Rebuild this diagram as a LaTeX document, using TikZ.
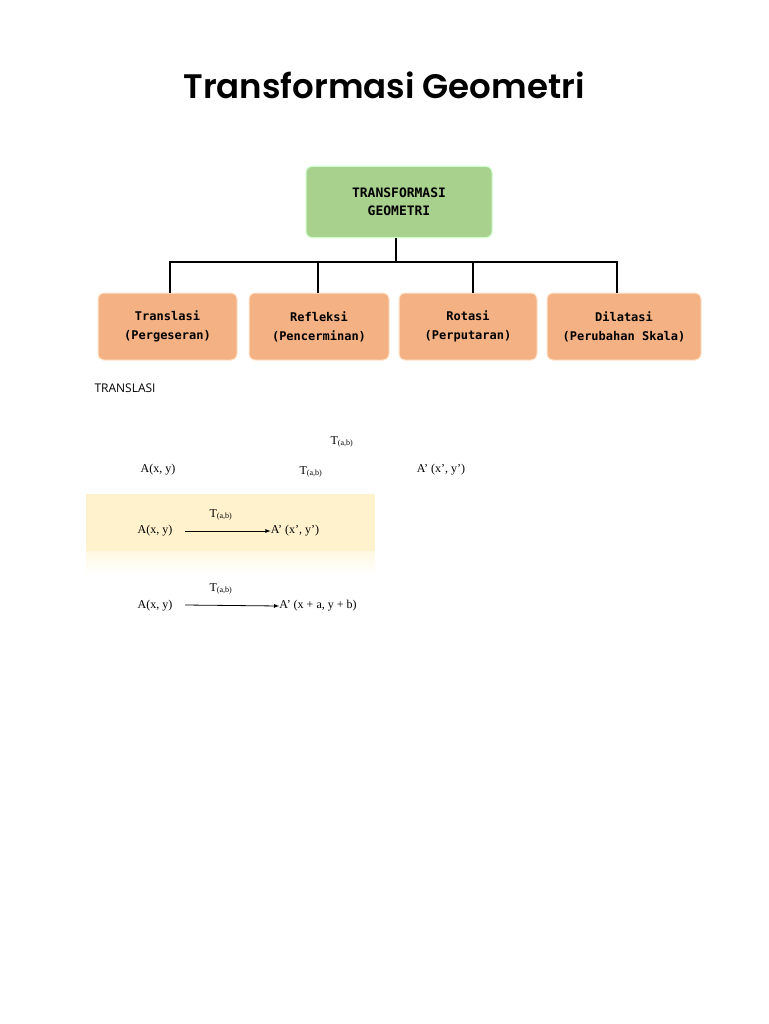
\documentclass[tikz,border=0pt]{standalone}
\usepackage{fontspec}
\setmainfont{Liberation Serif}
\newfontfamily\titlefont{Poppins SemiBold}
\newfontfamily\boxfont{DejaVu Sans Mono}
\newfontfamily\plainfont{Open Sans}
\definecolor{gfill}{RGB}{169,209,142}
\definecolor{ofill}{RGB}{244,177,131}
\definecolor{yfill}{RGB}{255,242,204}
\definecolor{yfade}{RGB}{255,248,225}
\begin{document}
\begin{tikzpicture}[x=1pt,y=-1pt,
  gbox/.style={draw=green!20!white,line width=1pt,fill=gfill,rounded corners=6pt,minimum width=186pt,minimum height=71pt,align=center,font=\boxfont\bfseries\fontsize{13}{18}\selectfont},
  obox/.style={draw=orange!20!white,line width=1pt,fill=ofill,rounded corners=6pt,minimum height=67pt,align=center,font=\boxfont\bfseries\fontsize{12}{19}\selectfont},
  tree/.style={line width=2pt,black},
  mtxt/.style={font=\fontsize{12}{14}\selectfont,inner sep=0pt},
  arr/.style={-latex,line width=0.8pt}]
\useasboundingbox (0,0) rectangle (768,1024);
\fill[white] (0,0) rectangle (768,1024);
\node[font=\titlefont\fontsize{34}{40}\selectfont] (title) at (384,85) {Transformasi Geometri};
\node[gbox] (root) at (399,202) {TRANSFORMASI\\GEOMETRI};
\node[obox,minimum width=139pt] (b1) at (167.5,326.5) {Translasi\\(Pergeseran)};
\node[obox,minimum width=140pt] (b2) at (319,326.5) {Refleksi\\(Pencerminan)};
\node[obox,minimum width=138pt] (b3) at (468,326.5) {Rotasi\\(Perputaran)};
\node[obox,minimum width=154pt] (b4) at (624,326.5) {Dilatasi\\(Perubahan Skala)};
\coordinate (j) at (396,262);
\draw[tree] (root.south -| j) -- (j);
\draw[tree] (170,262) -- (617,262);
\draw[tree] (170,261) -- (170,293);
\draw[tree] (318,261) -- (318,293);
\draw[tree] (473,261) -- (473,293);
\draw[tree] (617,261) -- (617,293);
\node[anchor=west,font=\plainfont\fontsize{12}{14}\selectfont] (tr) at (91,388) {TRANSLASI};
\node[mtxt] (t0) at (342,442) {T\textsubscript{(a,b)}};
\node[mtxt] (a0) at (158,470) {A(x, y)};
\node[mtxt] (t1) at (311,472) {T\textsubscript{(a,b)}};
\node[mtxt] (a1) at (441,470) {A' (x', y')};
\fill[yfill] (86,494) rectangle (375,551);
\shade[top color=yfade,bottom color=white] (86,551) rectangle (375,575);
\node[mtxt] (t2) at (221,515) {T\textsubscript{(a,b)}};
\node[mtxt] (a2) at (155,531) {A(x, y)};
\node[mtxt] (c2) at (295,531) {A' (x', y')};
\draw[arr] (185,531) -- (c2.west);
\node[mtxt] (t3) at (221,589) {T\textsubscript{(a,b)}};
\node[mtxt] (a3) at (155,606) {A(x, y)};
\node[mtxt] (c3) at (318,606) {A' (x + a, y + b)};
\draw[arr] (185,605) -- (c3.west);
\end{tikzpicture}
\end{document}
